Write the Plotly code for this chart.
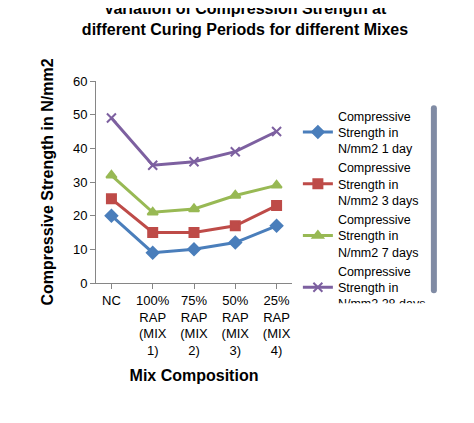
import plotly.graph_objects as go

categories = ["NC", "100%<br>RAP<br>(MIX<br>1)", "75%<br>RAP<br>(MIX<br>2)", "50%<br>RAP<br>(MIX<br>3)", "25%<br>RAP<br>(MIX<br>4)"]
day1 = [20, 9, 10, 12, 17]
day3 = [25, 15, 15, 17, 23]
day7 = [32, 21, 22, 26, 29]
day28 = [49, 35, 36, 39, 45]
names = ["Compressive<br>Strength in<br>N/mm2 1 day", "Compressive<br>Strength in<br>N/mm2 3 days",
         "Compressive<br>Strength in<br>N/mm2 7 days", "Compressive<br>Strength in<br>N/mm2 28 days"]
colors = ["#4A7EBB", "#BE4B48", "#98B954", "#7D60A0"]
symbols = ["diamond", "square", "triangle-up", "x-thin-open"]

fig = go.Figure()
for vals, n, c, s in zip([day1, day3, day7, day28], names, colors, symbols):
    fig.add_trace(go.Scatter(x=categories, y=vals, name=n, mode="lines+markers",
                             line=dict(color=c, width=3),
                             marker=dict(symbol=s, size=9, color=c, line=dict(color=c, width=2))))

fig.update_layout(
    width=474, height=423, margin=dict(l=88, r=190, t=73, b=148),
    paper_bgcolor="white", plot_bgcolor="white",
    font=dict(family="Liberation Sans, Arial", size=13, color="black"),
    title=dict(text="<b>Variation of Compression Strength at<br>different Curing Periods for different Mixes</b>",
               x=0.5, xanchor="center", y=0.985, yanchor="top", font=dict(size=16)),
    xaxis=dict(showline=True, linecolor="#868686", ticks="outside", tickcolor="#868686",
               title=dict(text="<b>Mix Composition</b>", standoff=12), tickangle=0),
    yaxis=dict(range=[0, 60], dtick=10, showgrid=False, showline=True, linecolor="#868686",
               ticks="outside", tickcolor="#868686",
               title=dict(text="<b>Compressive Strength in N/mm2</b>")),
    legend=dict(x=1.03, y=0.9, yanchor="top", font=dict(size=12.5), tracegroupgap=2),
)
fig.write_html("out.html")
